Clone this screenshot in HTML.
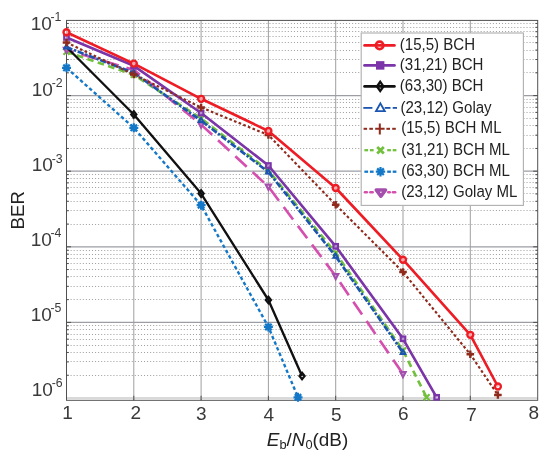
<!DOCTYPE html>
<html><head><meta charset="utf-8"><title>BER</title>
<style>html,body{margin:0;padding:0;background:#fff}svg text{font-family:"Liberation Sans",Arial,sans-serif}</style>
</head><body>
<svg width="550" height="459" viewBox="0 0 550 459" style="display:block">
<rect x="0" y="0" width="550" height="459" fill="#fff"/>
<g stroke="#a2a2a2" stroke-width="1" stroke-dasharray="1.05 2.01" fill="none">
<line x1="67.5" y1="72.50" x2="536.7" y2="72.50"/>
<line x1="67.5" y1="59.50" x2="536.7" y2="59.50"/>
<line x1="67.5" y1="50.50" x2="536.7" y2="50.50"/>
<line x1="67.5" y1="42.50" x2="536.7" y2="42.50"/>
<line x1="67.5" y1="36.50" x2="536.7" y2="36.50"/>
<line x1="67.5" y1="31.50" x2="536.7" y2="31.50"/>
<line x1="67.5" y1="27.50" x2="536.7" y2="27.50"/>
<line x1="67.5" y1="23.50" x2="536.7" y2="23.50"/>
<line x1="67.5" y1="148.50" x2="536.7" y2="148.50"/>
<line x1="67.5" y1="135.50" x2="536.7" y2="135.50"/>
<line x1="67.5" y1="125.50" x2="536.7" y2="125.50"/>
<line x1="67.5" y1="118.50" x2="536.7" y2="118.50"/>
<line x1="67.5" y1="112.50" x2="536.7" y2="112.50"/>
<line x1="67.5" y1="107.50" x2="536.7" y2="107.50"/>
<line x1="67.5" y1="102.50" x2="536.7" y2="102.50"/>
<line x1="67.5" y1="99.50" x2="536.7" y2="99.50"/>
<line x1="67.5" y1="224.50" x2="536.7" y2="224.50"/>
<line x1="67.5" y1="210.50" x2="536.7" y2="210.50"/>
<line x1="67.5" y1="201.50" x2="536.7" y2="201.50"/>
<line x1="67.5" y1="193.50" x2="536.7" y2="193.50"/>
<line x1="67.5" y1="187.50" x2="536.7" y2="187.50"/>
<line x1="67.5" y1="182.50" x2="536.7" y2="182.50"/>
<line x1="67.5" y1="178.50" x2="536.7" y2="178.50"/>
<line x1="67.5" y1="174.50" x2="536.7" y2="174.50"/>
<line x1="67.5" y1="299.50" x2="536.7" y2="299.50"/>
<line x1="67.5" y1="286.50" x2="536.7" y2="286.50"/>
<line x1="67.5" y1="276.50" x2="536.7" y2="276.50"/>
<line x1="67.5" y1="269.50" x2="536.7" y2="269.50"/>
<line x1="67.5" y1="263.50" x2="536.7" y2="263.50"/>
<line x1="67.5" y1="258.50" x2="536.7" y2="258.50"/>
<line x1="67.5" y1="254.50" x2="536.7" y2="254.50"/>
<line x1="67.5" y1="250.50" x2="536.7" y2="250.50"/>
<line x1="67.5" y1="375.50" x2="536.7" y2="375.50"/>
<line x1="67.5" y1="361.50" x2="536.7" y2="361.50"/>
<line x1="67.5" y1="352.50" x2="536.7" y2="352.50"/>
<line x1="67.5" y1="345.50" x2="536.7" y2="345.50"/>
<line x1="67.5" y1="339.50" x2="536.7" y2="339.50"/>
<line x1="67.5" y1="334.50" x2="536.7" y2="334.50"/>
<line x1="67.5" y1="329.50" x2="536.7" y2="329.50"/>
<line x1="67.5" y1="325.50" x2="536.7" y2="325.50"/>
</g>
<g stroke="#949494" stroke-width="0.9" fill="none">
<line x1="133.80" y1="20.4" x2="133.80" y2="400.3"/>
<line x1="201.10" y1="20.4" x2="201.10" y2="400.3"/>
<line x1="268.40" y1="20.4" x2="268.40" y2="400.3"/>
<line x1="335.70" y1="20.4" x2="335.70" y2="400.3"/>
<line x1="403.00" y1="20.4" x2="403.00" y2="400.3"/>
<line x1="470.30" y1="20.4" x2="470.30" y2="400.3"/>
</g>
<g stroke="#9c9ea4" stroke-width="1.2" fill="none">
<line x1="66.5" y1="95.60" x2="537.7" y2="95.60"/>
<line x1="66.5" y1="171.20" x2="537.7" y2="171.20"/>
<line x1="66.5" y1="246.80" x2="537.7" y2="246.80"/>
<line x1="66.5" y1="322.40" x2="537.7" y2="322.40"/>
<line x1="66.5" y1="397.9" x2="537.7" y2="397.9" stroke="#cdcdcd" stroke-width="1.5"/>
</g>
<rect x="66.5" y="20.4" width="471.2" height="379.9" fill="none" stroke="#505050" stroke-width="1"/>
<g stroke="#4d4d4d" stroke-width="1" fill="none">
<line x1="133.80" y1="400.3" x2="133.80" y2="395.8"/>
<line x1="201.10" y1="400.3" x2="201.10" y2="395.8"/>
<line x1="268.40" y1="400.3" x2="268.40" y2="395.8"/>
<line x1="335.70" y1="400.3" x2="335.70" y2="395.8"/>
<line x1="403.00" y1="400.3" x2="403.00" y2="395.8"/>
<line x1="470.30" y1="400.3" x2="470.30" y2="395.8"/>
<line x1="66.5" y1="95.60" x2="71.0" y2="95.60"/>
<line x1="537.7" y1="95.60" x2="533.2" y2="95.60"/>
<line x1="66.5" y1="171.20" x2="71.0" y2="171.20"/>
<line x1="537.7" y1="171.20" x2="533.2" y2="171.20"/>
<line x1="66.5" y1="246.80" x2="71.0" y2="246.80"/>
<line x1="537.7" y1="246.80" x2="533.2" y2="246.80"/>
<line x1="66.5" y1="322.40" x2="71.0" y2="322.40"/>
<line x1="537.7" y1="322.40" x2="533.2" y2="322.40"/>
<line x1="66.5" y1="72.84" x2="68.8" y2="72.84"/>
<line x1="537.7" y1="72.84" x2="535.4000000000001" y2="72.84"/>
<line x1="66.5" y1="59.53" x2="68.8" y2="59.53"/>
<line x1="537.7" y1="59.53" x2="535.4000000000001" y2="59.53"/>
<line x1="66.5" y1="50.08" x2="68.8" y2="50.08"/>
<line x1="537.7" y1="50.08" x2="535.4000000000001" y2="50.08"/>
<line x1="66.5" y1="42.76" x2="68.8" y2="42.76"/>
<line x1="537.7" y1="42.76" x2="535.4000000000001" y2="42.76"/>
<line x1="66.5" y1="36.77" x2="68.8" y2="36.77"/>
<line x1="537.7" y1="36.77" x2="535.4000000000001" y2="36.77"/>
<line x1="66.5" y1="31.71" x2="68.8" y2="31.71"/>
<line x1="537.7" y1="31.71" x2="535.4000000000001" y2="31.71"/>
<line x1="66.5" y1="27.33" x2="68.8" y2="27.33"/>
<line x1="537.7" y1="27.33" x2="535.4000000000001" y2="27.33"/>
<line x1="66.5" y1="23.46" x2="68.8" y2="23.46"/>
<line x1="537.7" y1="23.46" x2="535.4000000000001" y2="23.46"/>
<line x1="66.5" y1="148.44" x2="68.8" y2="148.44"/>
<line x1="537.7" y1="148.44" x2="535.4000000000001" y2="148.44"/>
<line x1="66.5" y1="135.13" x2="68.8" y2="135.13"/>
<line x1="537.7" y1="135.13" x2="535.4000000000001" y2="135.13"/>
<line x1="66.5" y1="125.68" x2="68.8" y2="125.68"/>
<line x1="537.7" y1="125.68" x2="535.4000000000001" y2="125.68"/>
<line x1="66.5" y1="118.36" x2="68.8" y2="118.36"/>
<line x1="537.7" y1="118.36" x2="535.4000000000001" y2="118.36"/>
<line x1="66.5" y1="112.37" x2="68.8" y2="112.37"/>
<line x1="537.7" y1="112.37" x2="535.4000000000001" y2="112.37"/>
<line x1="66.5" y1="107.31" x2="68.8" y2="107.31"/>
<line x1="537.7" y1="107.31" x2="535.4000000000001" y2="107.31"/>
<line x1="66.5" y1="102.93" x2="68.8" y2="102.93"/>
<line x1="537.7" y1="102.93" x2="535.4000000000001" y2="102.93"/>
<line x1="66.5" y1="99.06" x2="68.8" y2="99.06"/>
<line x1="537.7" y1="99.06" x2="535.4000000000001" y2="99.06"/>
<line x1="66.5" y1="224.04" x2="68.8" y2="224.04"/>
<line x1="537.7" y1="224.04" x2="535.4000000000001" y2="224.04"/>
<line x1="66.5" y1="210.73" x2="68.8" y2="210.73"/>
<line x1="537.7" y1="210.73" x2="535.4000000000001" y2="210.73"/>
<line x1="66.5" y1="201.28" x2="68.8" y2="201.28"/>
<line x1="537.7" y1="201.28" x2="535.4000000000001" y2="201.28"/>
<line x1="66.5" y1="193.96" x2="68.8" y2="193.96"/>
<line x1="537.7" y1="193.96" x2="535.4000000000001" y2="193.96"/>
<line x1="66.5" y1="187.97" x2="68.8" y2="187.97"/>
<line x1="537.7" y1="187.97" x2="535.4000000000001" y2="187.97"/>
<line x1="66.5" y1="182.91" x2="68.8" y2="182.91"/>
<line x1="537.7" y1="182.91" x2="535.4000000000001" y2="182.91"/>
<line x1="66.5" y1="178.53" x2="68.8" y2="178.53"/>
<line x1="537.7" y1="178.53" x2="535.4000000000001" y2="178.53"/>
<line x1="66.5" y1="174.66" x2="68.8" y2="174.66"/>
<line x1="537.7" y1="174.66" x2="535.4000000000001" y2="174.66"/>
<line x1="66.5" y1="299.64" x2="68.8" y2="299.64"/>
<line x1="537.7" y1="299.64" x2="535.4000000000001" y2="299.64"/>
<line x1="66.5" y1="286.33" x2="68.8" y2="286.33"/>
<line x1="537.7" y1="286.33" x2="535.4000000000001" y2="286.33"/>
<line x1="66.5" y1="276.88" x2="68.8" y2="276.88"/>
<line x1="537.7" y1="276.88" x2="535.4000000000001" y2="276.88"/>
<line x1="66.5" y1="269.56" x2="68.8" y2="269.56"/>
<line x1="537.7" y1="269.56" x2="535.4000000000001" y2="269.56"/>
<line x1="66.5" y1="263.57" x2="68.8" y2="263.57"/>
<line x1="537.7" y1="263.57" x2="535.4000000000001" y2="263.57"/>
<line x1="66.5" y1="258.51" x2="68.8" y2="258.51"/>
<line x1="537.7" y1="258.51" x2="535.4000000000001" y2="258.51"/>
<line x1="66.5" y1="254.13" x2="68.8" y2="254.13"/>
<line x1="537.7" y1="254.13" x2="535.4000000000001" y2="254.13"/>
<line x1="66.5" y1="250.26" x2="68.8" y2="250.26"/>
<line x1="537.7" y1="250.26" x2="535.4000000000001" y2="250.26"/>
<line x1="66.5" y1="375.24" x2="68.8" y2="375.24"/>
<line x1="537.7" y1="375.24" x2="535.4000000000001" y2="375.24"/>
<line x1="66.5" y1="361.93" x2="68.8" y2="361.93"/>
<line x1="537.7" y1="361.93" x2="535.4000000000001" y2="361.93"/>
<line x1="66.5" y1="352.48" x2="68.8" y2="352.48"/>
<line x1="537.7" y1="352.48" x2="535.4000000000001" y2="352.48"/>
<line x1="66.5" y1="345.16" x2="68.8" y2="345.16"/>
<line x1="537.7" y1="345.16" x2="535.4000000000001" y2="345.16"/>
<line x1="66.5" y1="339.17" x2="68.8" y2="339.17"/>
<line x1="537.7" y1="339.17" x2="535.4000000000001" y2="339.17"/>
<line x1="66.5" y1="334.11" x2="68.8" y2="334.11"/>
<line x1="537.7" y1="334.11" x2="535.4000000000001" y2="334.11"/>
<line x1="66.5" y1="329.73" x2="68.8" y2="329.73"/>
<line x1="537.7" y1="329.73" x2="535.4000000000001" y2="329.73"/>
<line x1="66.5" y1="325.86" x2="68.8" y2="325.86"/>
<line x1="537.7" y1="325.86" x2="535.4000000000001" y2="325.86"/>
</g>
<clipPath id="cp"><rect x="60.5" y="14.399999999999999" width="483.20000000000005" height="391.90000000000003"/></clipPath>
<g clip-path="url(#cp)">
<polyline points="66.50,67.80 133.80,127.80 201.10,205.20 268.40,326.90 298.01,397.30" fill="none" stroke="#1478c8" stroke-width="2.4" stroke-linejoin="round" stroke-dasharray="3.5 2.6" stroke-dashoffset="0"/>
<path d="M62.00 67.80 H71.00 M66.50 63.30 V72.30 M63.30 64.60 L69.70 71.00 M63.30 71.00 L69.70 64.60" fill="none" stroke="#1478c8" stroke-width="2.20"/><circle cx="66.50" cy="67.80" r="2.30" fill="#1478c8"/>
<path d="M129.30 127.80 H138.30 M133.80 123.30 V132.30 M130.60 124.60 L137.00 131.00 M130.60 131.00 L137.00 124.60" fill="none" stroke="#1478c8" stroke-width="2.20"/><circle cx="133.80" cy="127.80" r="2.30" fill="#1478c8"/>
<path d="M196.60 205.20 H205.60 M201.10 200.70 V209.70 M197.90 202.00 L204.30 208.40 M197.90 208.40 L204.30 202.00" fill="none" stroke="#1478c8" stroke-width="2.20"/><circle cx="201.10" cy="205.20" r="2.30" fill="#1478c8"/>
<path d="M263.90 326.90 H272.90 M268.40 322.40 V331.40 M265.20 323.70 L271.60 330.10 M265.20 330.10 L271.60 323.70" fill="none" stroke="#1478c8" stroke-width="2.20"/><circle cx="268.40" cy="326.90" r="2.30" fill="#1478c8"/>
<path d="M293.51 397.30 H302.51 M298.01 392.80 V401.80 M294.81 394.10 L301.21 400.50 M294.81 400.50 L301.21 394.10" fill="none" stroke="#1478c8" stroke-width="2.20"/><circle cx="298.01" cy="397.30" r="2.30" fill="#1478c8"/>
<polyline points="66.50,51.80 133.80,74.80 201.10,118.50 268.40,170.50 335.70,253.00 403.00,350.50 426.55,397.30" fill="none" stroke="#72c03c" stroke-width="2.65" stroke-linejoin="round" stroke-dasharray="6.6 4.4" stroke-dashoffset="0"/>
<path d="M63.50 48.80 L69.50 54.80 M63.50 54.80 L69.50 48.80" fill="none" stroke="#72c03c" stroke-width="2.20"/>
<path d="M130.80 71.80 L136.80 77.80 M130.80 77.80 L136.80 71.80" fill="none" stroke="#72c03c" stroke-width="2.20"/>
<path d="M198.10 115.50 L204.10 121.50 M198.10 121.50 L204.10 115.50" fill="none" stroke="#72c03c" stroke-width="2.20"/>
<path d="M265.40 167.50 L271.40 173.50 M265.40 173.50 L271.40 167.50" fill="none" stroke="#72c03c" stroke-width="2.20"/>
<path d="M332.70 250.00 L338.70 256.00 M332.70 256.00 L338.70 250.00" fill="none" stroke="#72c03c" stroke-width="2.20"/>
<path d="M400.00 347.50 L406.00 353.50 M400.00 353.50 L406.00 347.50" fill="none" stroke="#72c03c" stroke-width="2.20"/>
<path d="M423.55 394.30 L429.55 400.30 M423.55 400.30 L429.55 394.30" fill="none" stroke="#72c03c" stroke-width="2.20"/>
<polyline points="66.50,49.90 133.80,69.90 201.10,124.60 268.40,186.70 335.70,276.10 403.00,374.10" fill="none" stroke="#d44fae" stroke-width="2.65" stroke-linejoin="round" stroke-dasharray="15.5 8" stroke-dashoffset="8"/>
<path d="M66.50 52.86 L69.09 47.89 L63.91 47.89 Z" fill="#fff" fill-opacity="0.5" stroke="#a44fae" stroke-width="2.16" stroke-linejoin="miter"/>
<path d="M133.80 72.86 L136.39 67.89 L131.21 67.89 Z" fill="#fff" fill-opacity="0.5" stroke="#a44fae" stroke-width="2.16" stroke-linejoin="miter"/>
<path d="M201.10 127.56 L203.69 122.59 L198.51 122.59 Z" fill="#fff" fill-opacity="0.5" stroke="#a44fae" stroke-width="2.16" stroke-linejoin="miter"/>
<path d="M268.40 189.66 L270.99 184.69 L265.81 184.69 Z" fill="#fff" fill-opacity="0.5" stroke="#a44fae" stroke-width="2.16" stroke-linejoin="miter"/>
<path d="M335.70 279.06 L338.29 274.09 L333.11 274.09 Z" fill="#fff" fill-opacity="0.5" stroke="#a44fae" stroke-width="2.16" stroke-linejoin="miter"/>
<path d="M403.00 377.06 L405.59 372.09 L400.41 372.09 Z" fill="#fff" fill-opacity="0.5" stroke="#a44fae" stroke-width="2.16" stroke-linejoin="miter"/>
<polyline points="66.50,47.00 133.80,114.50 201.10,193.60 268.40,300.00 302.05,376.00" fill="none" stroke="#111111" stroke-width="2.35" stroke-linejoin="round"/>
<path d="M133.80 111.20 L136.40 114.50 L133.80 117.80 L131.20 114.50 Z" fill="none" stroke="#111111" stroke-width="2.20" stroke-linejoin="miter"/>
<path d="M201.10 190.30 L203.70 193.60 L201.10 196.90 L198.50 193.60 Z" fill="none" stroke="#111111" stroke-width="2.20" stroke-linejoin="miter"/>
<path d="M268.40 296.70 L271.00 300.00 L268.40 303.30 L265.80 300.00 Z" fill="none" stroke="#111111" stroke-width="2.20" stroke-linejoin="miter"/>
<path d="M302.05 372.70 L304.65 376.00 L302.05 379.30 L299.45 376.00 Z" fill="none" stroke="#111111" stroke-width="2.20" stroke-linejoin="miter"/>
<polyline points="66.50,47.20 133.80,72.80 201.10,120.70 268.40,172.00 335.70,256.30 403.00,352.60" fill="none" stroke="#1c55b0" stroke-width="2.65" stroke-linejoin="round" stroke-dasharray="6.2 1.7 2.4 1.7" stroke-dashoffset="0"/>
<path d="M66.50 44.60 L68.80 48.60 L64.20 48.60 Z" fill="#fff" fill-opacity="0.3" stroke="#1c55b0" stroke-width="2.00" stroke-linejoin="miter"/>
<path d="M133.80 70.20 L136.10 74.20 L131.50 74.20 Z" fill="#fff" fill-opacity="0.3" stroke="#1c55b0" stroke-width="2.00" stroke-linejoin="miter"/>
<path d="M201.10 118.10 L203.40 122.10 L198.80 122.10 Z" fill="#fff" fill-opacity="0.3" stroke="#1c55b0" stroke-width="2.00" stroke-linejoin="miter"/>
<path d="M268.40 169.40 L270.70 173.40 L266.10 173.40 Z" fill="#fff" fill-opacity="0.3" stroke="#1c55b0" stroke-width="2.00" stroke-linejoin="miter"/>
<path d="M335.70 253.70 L338.00 257.70 L333.40 257.70 Z" fill="#fff" fill-opacity="0.3" stroke="#1c55b0" stroke-width="2.00" stroke-linejoin="miter"/>
<path d="M403.00 350.00 L405.30 354.00 L400.70 354.00 Z" fill="#fff" fill-opacity="0.3" stroke="#1c55b0" stroke-width="2.00" stroke-linejoin="miter"/>
<polyline points="66.50,37.50 133.80,65.80 201.10,113.00 268.40,165.50 335.70,246.30 403.00,338.80 436.65,397.30" fill="none" stroke="#7b35a8" stroke-width="2.65" stroke-linejoin="round"/>
<rect x="64.25" y="35.25" width="4.50" height="4.50" fill="#fff" fill-opacity="0.45" stroke="#7b35a8" stroke-width="2.20"/>
<rect x="131.55" y="63.55" width="4.50" height="4.50" fill="#fff" fill-opacity="0.45" stroke="#7b35a8" stroke-width="2.20"/>
<rect x="198.85" y="110.75" width="4.50" height="4.50" fill="#fff" fill-opacity="0.45" stroke="#7b35a8" stroke-width="2.20"/>
<rect x="266.15" y="163.25" width="4.50" height="4.50" fill="#fff" fill-opacity="0.45" stroke="#7b35a8" stroke-width="2.20"/>
<rect x="333.45" y="244.05" width="4.50" height="4.50" fill="#fff" fill-opacity="0.45" stroke="#7b35a8" stroke-width="2.20"/>
<rect x="400.75" y="336.55" width="4.50" height="4.50" fill="#fff" fill-opacity="0.45" stroke="#7b35a8" stroke-width="2.20"/>
<rect x="434.40" y="395.05" width="4.50" height="4.50" fill="#fff" fill-opacity="0.45" stroke="#7b35a8" stroke-width="2.20"/>
<polyline points="66.50,42.50 133.80,74.50 201.10,107.50 268.40,135.00 335.70,204.80 403.00,272.00 470.30,354.30 497.89,395.00" fill="none" stroke="#8f2a1c" stroke-width="2.15" stroke-linejoin="round" stroke-dasharray="2.7 2.3" stroke-dashoffset="0"/>
<path d="M62.70 42.50 H70.30 M66.50 38.70 V46.30" fill="none" stroke="#8f2a1c" stroke-width="2.40"/>
<path d="M130.00 74.50 H137.60 M133.80 70.70 V78.30" fill="none" stroke="#8f2a1c" stroke-width="2.40"/>
<path d="M197.30 107.50 H204.90 M201.10 103.70 V111.30" fill="none" stroke="#8f2a1c" stroke-width="2.40"/>
<path d="M264.60 135.00 H272.20 M268.40 131.20 V138.80" fill="none" stroke="#8f2a1c" stroke-width="2.40"/>
<path d="M331.90 204.80 H339.50 M335.70 201.00 V208.60" fill="none" stroke="#8f2a1c" stroke-width="2.40"/>
<path d="M399.20 272.00 H406.80 M403.00 268.20 V275.80" fill="none" stroke="#8f2a1c" stroke-width="2.40"/>
<path d="M466.50 354.30 H474.10 M470.30 350.50 V358.10" fill="none" stroke="#8f2a1c" stroke-width="2.40"/>
<path d="M494.09 395.00 H501.69 M497.89 391.20 V398.80" fill="none" stroke="#8f2a1c" stroke-width="2.40"/>
<polyline points="66.50,32.20 133.80,63.60 201.10,98.80 268.40,131.00 335.70,188.00 403.00,259.70 470.30,334.80 497.89,386.50" fill="none" stroke="#ee1d25" stroke-width="2.65" stroke-linejoin="round"/>
<circle cx="66.50" cy="32.20" r="3.00" fill="#fff" fill-opacity="0.6" stroke="#ee1d25" stroke-width="2.35"/>
<circle cx="133.80" cy="63.60" r="3.00" fill="#fff" fill-opacity="0.6" stroke="#ee1d25" stroke-width="2.35"/>
<circle cx="201.10" cy="98.80" r="3.00" fill="#fff" fill-opacity="0.6" stroke="#ee1d25" stroke-width="2.35"/>
<circle cx="268.40" cy="131.00" r="3.00" fill="#fff" fill-opacity="0.6" stroke="#ee1d25" stroke-width="2.35"/>
<circle cx="335.70" cy="188.00" r="3.00" fill="#fff" fill-opacity="0.6" stroke="#ee1d25" stroke-width="2.35"/>
<circle cx="403.00" cy="259.70" r="3.00" fill="#fff" fill-opacity="0.6" stroke="#ee1d25" stroke-width="2.35"/>
<circle cx="470.30" cy="334.80" r="3.00" fill="#fff" fill-opacity="0.6" stroke="#ee1d25" stroke-width="2.35"/>
<circle cx="497.89" cy="386.50" r="3.00" fill="#fff" fill-opacity="0.6" stroke="#ee1d25" stroke-width="2.35"/>
</g>
<rect x="361.2" y="33.0" width="162.2" height="172.4" fill="#fff" stroke="#b2b2b2" stroke-width="1.15"/>
<line x1="364.6" y1="45.4" x2="394.4" y2="45.4" stroke="#ee1d25" stroke-width="2.8" stroke-linecap="round"/>
<circle cx="379.6" cy="45.4" r="3.7" fill="none" stroke="#ee1d25" stroke-width="2.7"/>
<text transform="translate(399.8,50.1) scale(1,1.06)" font-size="15.05" fill="#222">(15,5) BCH</text>
<line x1="364.6" y1="65.4" x2="394.4" y2="65.4" stroke="#7b35a8" stroke-width="2.9" stroke-linecap="round"/>
<rect x="376.00" y="61.15" width="8.4" height="8.5" fill="#7b35a8"/>
<text transform="translate(399.8,70.1) scale(1,1.06)" font-size="15.05" fill="#222">(31,21) BCH</text>
<line x1="364.6" y1="86.4" x2="394.4" y2="86.4" stroke="#111111" stroke-width="2.8" stroke-linecap="round"/>
<path fill-rule="evenodd" fill="#111111" d="M380.2 79.70 L384.85 86.4 L380.2 93.10 L375.55 86.4 Z M380.2 83.80 L381.70 86.4 L380.2 89.00 L378.70 86.4 Z"/>
<text transform="translate(399.8,91.1) scale(1,1.06)" font-size="15.05" fill="#222">(63,30) BCH</text>
<line x1="363.3" y1="107.9" x2="372.4" y2="107.9" stroke="#1c55b0" stroke-width="1.8" stroke-linecap="butt"/>
<line x1="384.7" y1="107.9" x2="390.5" y2="107.9" stroke="#1c55b0" stroke-width="1.8" stroke-linecap="butt"/>
<line x1="392.7" y1="107.9" x2="397.0" y2="107.9" stroke="#1c55b0" stroke-width="1.8" stroke-linecap="butt"/>
<path d="M380.4 103.4 L384.8 111.2 L376.0 111.2 Z" fill="none" stroke="#1c55b0" stroke-width="1.8" stroke-linejoin="miter"/>
<text transform="translate(400.5,112.6) scale(1,1.06)" font-size="15.05" fill="#222">(23,12) Golay</text>
<line x1="363.6" y1="128.8" x2="367.1" y2="128.8" stroke="#8f2a1c" stroke-width="2.0" stroke-linecap="butt"/>
<line x1="369.3" y1="128.8" x2="372.9" y2="128.8" stroke="#8f2a1c" stroke-width="2.0" stroke-linecap="butt"/>
<line x1="386.4" y1="128.8" x2="390.0" y2="128.8" stroke="#8f2a1c" stroke-width="2.0" stroke-linecap="butt"/>
<line x1="392.2" y1="128.8" x2="395.8" y2="128.8" stroke="#8f2a1c" stroke-width="2.0" stroke-linecap="butt"/>
<path d="M375.2 128.8 H384.6 M379.8 123.50 V134.40" fill="none" stroke="#8f2a1c" stroke-width="2"/>
<text transform="translate(401.2,133.1) scale(1,1.06)" font-size="15.05" fill="#222">(15,5) BCH ML</text>
<line x1="364.4" y1="150.2" x2="368.1" y2="150.2" stroke="#72c03c" stroke-width="2.3" stroke-linecap="butt"/>
<line x1="369.9" y1="150.2" x2="373.6" y2="150.2" stroke="#72c03c" stroke-width="2.3" stroke-linecap="butt"/>
<line x1="387.2" y1="150.2" x2="390.9" y2="150.2" stroke="#72c03c" stroke-width="2.3" stroke-linecap="butt"/>
<line x1="392.7" y1="150.2" x2="396.4" y2="150.2" stroke="#72c03c" stroke-width="2.3" stroke-linecap="butt"/>
<path d="M377.20 146.90 L383.80 153.50 M377.20 153.50 L383.80 146.90" fill="none" stroke="#72c03c" stroke-width="2.8"/>
<text transform="translate(401.2,154.5) scale(1,1.06)" font-size="15.05" fill="#222">(31,21) BCH ML</text>
<line x1="364.4" y1="171.7" x2="368.1" y2="171.7" stroke="#1478c8" stroke-width="2.3" stroke-linecap="butt"/>
<line x1="369.9" y1="171.7" x2="373.6" y2="171.7" stroke="#1478c8" stroke-width="2.3" stroke-linecap="butt"/>
<line x1="387.2" y1="171.7" x2="390.9" y2="171.7" stroke="#1478c8" stroke-width="2.3" stroke-linecap="butt"/>
<line x1="392.7" y1="171.7" x2="396.4" y2="171.7" stroke="#1478c8" stroke-width="2.3" stroke-linecap="butt"/>
<path d="M375.80 171.7 H385.20 M380.5 167.00 V176.40 M377.15 168.35 L383.85 175.05 M377.15 175.05 L383.85 168.35" fill="none" stroke="#1478c8" stroke-width="2.2"/>
<circle cx="380.5" cy="171.7" r="2.7" fill="#1478c8"/>
<text transform="translate(401.2,176.0) scale(1,1.06)" font-size="15.05" fill="#222">(63,30) BCH ML</text>
<line x1="364.9" y1="192.2" x2="366.9" y2="192.2" stroke="#d44fae" stroke-width="2.4" stroke-linecap="round"/>
<line x1="370.3" y1="192.2" x2="372.7" y2="192.2" stroke="#d44fae" stroke-width="2.4" stroke-linecap="round"/>
<line x1="388.2" y1="192.2" x2="389.8" y2="192.2" stroke="#d44fae" stroke-width="2.4" stroke-linecap="round"/>
<line x1="392.9" y1="192.2" x2="395.2" y2="192.2" stroke="#d44fae" stroke-width="2.4" stroke-linecap="round"/>
<path d="M376.3 190.0 L385.5 190.0 L380.9 196.2 Z" fill="none" stroke="#a44fae" stroke-width="3.6" stroke-linejoin="round"/>
<text transform="translate(401.2,196.5) scale(1,1.06)" font-size="15.05" fill="#222">(23,12) Golay ML</text>
<text x="67.60" y="419.2" font-size="19" text-anchor="middle" fill="#3a3a3a">1</text>
<text x="135.70" y="419.2" font-size="19" text-anchor="middle" fill="#3a3a3a">2</text>
<text x="201.20" y="420.1" font-size="19" text-anchor="middle" fill="#3a3a3a">3</text>
<text x="268.90" y="420.6" font-size="19" text-anchor="middle" fill="#3a3a3a">4</text>
<text x="336.20" y="420.6" font-size="19" text-anchor="middle" fill="#3a3a3a">5</text>
<text x="403.30" y="419.8" font-size="19" text-anchor="middle" fill="#3a3a3a">6</text>
<text x="471.50" y="420.6" font-size="19" text-anchor="middle" fill="#3a3a3a">7</text>
<text x="533.70" y="419.2" font-size="19" text-anchor="middle" fill="#3a3a3a">8</text>
<text x="30.7" y="29.6" font-size="19" fill="#3a3a3a">10<tspan font-size="12.3" dx="-1.4" dy="-8.6">-1</tspan></text>
<text x="31.7" y="95.8" font-size="19" fill="#3a3a3a">10<tspan font-size="12.3" dx="-1.2" dy="-9.0">-2</tspan></text>
<text x="31.7" y="170.8" font-size="19" fill="#3a3a3a">10<tspan font-size="12.3" dx="-1.2" dy="-8.2">-3</tspan></text>
<text x="30.7" y="246.0" font-size="19" fill="#3a3a3a">10<tspan font-size="12.3" dx="-1.4" dy="-9.4">-4</tspan></text>
<text x="30.7" y="320.5" font-size="19" fill="#3a3a3a">10<tspan font-size="12.3" dx="-1.4" dy="-8.6">-5</tspan></text>
<text x="31.7" y="396.2" font-size="19" fill="#3a3a3a">10<tspan font-size="12.3" dx="-1.2" dy="-8.8">-6</tspan></text>
<text x="266.8" y="445.8" font-size="18.9" fill="#222"><tspan font-style="italic">E</tspan><tspan font-size="12.8" dy="3.3">b</tspan><tspan dy="-3.3">/</tspan><tspan font-style="italic">N</tspan><tspan font-size="12.8" dy="3.3">0</tspan><tspan dy="-3.3">(dB)</tspan></text>
<text transform="translate(24.4,210.3) rotate(-90)" font-size="18.7" text-anchor="middle" fill="#222">BER</text>
</svg>
</body></html>
